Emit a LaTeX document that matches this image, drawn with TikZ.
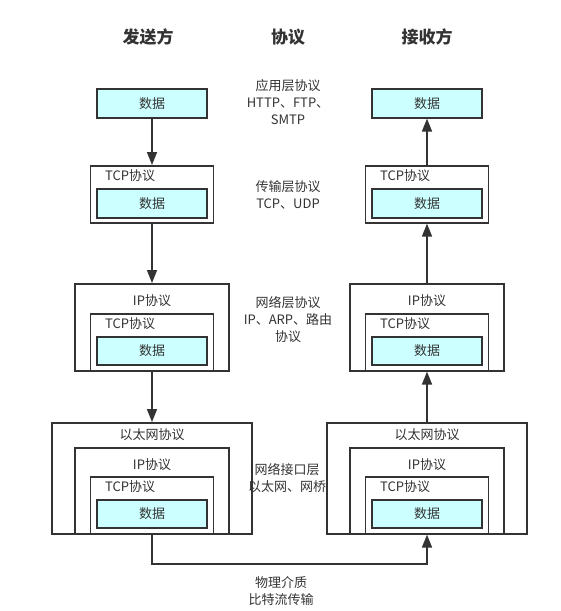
\documentclass[tikz,border=0pt]{standalone}
\usepackage{fontspec}
\setmainfont{Noto Sans CJK SC}
\usetikzlibrary{arrows.meta}
\definecolor{datacyan}{HTML}{CCFFFF}
\definecolor{linegray}{HTML}{333333}
\definecolor{txtgray}{HTML}{333333}
\tikzset{
  layer/.style={draw=linegray, line width=1.6pt, fill=white, inner sep=0pt, anchor=north},
  databox/.style={layer, fill=datacyan, minimum width=110, minimum height=29, text=txtgray},
  tag/.style={text=txtgray, inner sep=0pt},
  proto/.style={text=txtgray, align=center, inner sep=0pt, font=\fontsize{13}{17}\selectfont},
  head/.style={text=txtgray, inner sep=0pt, font=\fontsize{17}{20}\selectfont\bfseries},
  flow/.style={draw=linegray, line width=1.6pt, -{Triangle[width=10pt,length=13pt]}},
}
\begin{document}
\begin{tikzpicture}[x=1pt, y=-1pt, font=\fontsize{13}{17}\selectfont]
  \useasboundingbox (0,0) rectangle (561,611);
  % 表头
  \node[head] (hsend) at (148,37) {发送方};
  \node[head] (hproto) at (288,37) {协议};
  \node[head] (hrecv) at (427,37) {接收方};
  % 两侧的封装层 (s = 发送方, r = 接收方)
  \foreach \s/\cx in {s/152, r/427} {
    % 应用层
    \node[databox] (\s d1) at (\cx,88) {数据};
    % 传输层
    \node[layer, minimum width=123, minimum height=57] (\s tcp2) at (\cx,165) {};
    \node[tag, anchor=west] (\s tcpt2) at (\cx-47,176) {TCP协议};
    \node[databox] (\s d2) at (\cx,188) {数据};
    % 网络层
    \node[layer, minimum width=154, minimum height=87] (\s ip3) at (\cx,283) {};
    \node[tag] (\s ipt3) at (\cx,301) {IP协议};
    \node[layer, minimum width=123, minimum height=57] (\s tcp3) at (\cx,313) {};
    \node[tag, anchor=west] (\s tcpt3) at (\cx-47,324) {TCP协议};
    \node[databox, minimum height=28] (\s d3) at (\cx,336) {数据};
    % 网络接口层
    \node[layer, minimum width=200, minimum height=111] (\s eth4) at (\cx,422) {};
    \node[tag] (\s etht4) at (\cx,435) {以太网协议};
    \node[layer, minimum width=154, minimum height=86] (\s ip4) at (\cx,447) {};
    \node[tag] (\s ipt4) at (\cx,465) {IP协议};
    \node[layer, minimum width=123, minimum height=57] (\s tcp4) at (\cx,476) {};
    \node[tag, anchor=west] (\s tcpt4) at (\cx-47,487) {TCP协议};
    \node[databox, minimum height=28] (\s d4) at (\cx,499) {数据};
  }
  % 协议说明
  \node[proto] (papp) at (288,102) {应用层协议\\HTTP、FTP、\\SMTP};
  \node[proto] (ptrans) at (288,195) {传输层协议\\TCP、UDP};
  \node[proto] (pnet) at (288,320) {网络层协议\\IP、ARP、路由\\协议};
  \node[proto] (plink) at (287,478) {网络接口层\\以太网、网桥};
  \node[proto] (pphys) at (281,591) {物理介质\\比特流传输};
  % 发送方向下
  \draw[flow] (sd1.south) -- (stcp2.north);
  \draw[flow] (stcp2.south) -- (sip3.north);
  \draw[flow] (sip3.south) -- (seth4.north);
  % 接收方向上
  \draw[flow] (rtcp2.north) -- (rd1.south);
  \draw[flow] (rip3.north) -- (rtcp2.south);
  \draw[flow] (reth4.north) -- (rip3.south);
  % 物理传输
  \coordinate (wire) at (0,564);
  \draw[flow] (seth4.south) -- (seth4.south |- wire) -- (reth4.south |- wire) -- (reth4.south);
\end{tikzpicture}
\end{document}
